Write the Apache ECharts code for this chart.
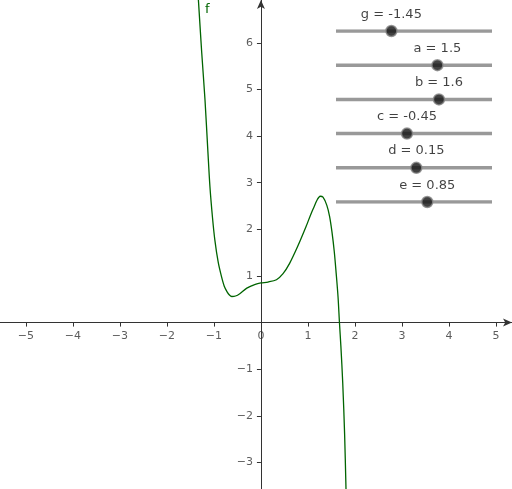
<!DOCTYPE html>
<html><head><meta charset="utf-8">
<script src="https://cdn.jsdelivr.net/npm/echarts@6/dist/echarts.min.js"></script>
<style>html,body{margin:0;padding:0;background:#fff}#c{width:512px;height:489px}</style>
</head><body><div id="c"></div>
<script>
const curveX = [-1.33,-1.26,-1.19,-1.13,-1.085,-1.03,-0.98,-0.91,-0.84,-0.78,-0.72,-0.67,-0.62,-0.54,-0.45,-0.30,-0.12,0,0.15,0.33,0.47,0.61,0.78,0.96,1.06,1.12,1.2,1.26,1.32,1.40,1.46,1.51,1.56,1.6,1.64,1.67,1.70,1.74,1.78,1.81];
const curveY = [6.92,5.8,4.78,3.7,2.92,2.25,1.77,1.3,0.99,0.78,0.66,0.59,0.56,0.57,0.62,0.74,0.82,0.85,0.87,0.92,1.05,1.27,1.63,2.06,2.32,2.46,2.64,2.71,2.69,2.52,2.28,1.95,1.52,1.06,0.55,0.0,-0.5,-1.3,-2.4,-3.6];
const xTicks = [-5,-4,-3,-2,-1,0,1,2,3,4,5];
const yTicks = [-3,-2,-1,1,2,3,4,5,6];
const sliderNames = ['g','a','b','c','d','e'];
const sliderValues = [-1.45,1.5,1.6,-0.45,0.15,0.85];
const fmt = v => String(v).replace('-', '\u2212');
const chart = echarts.init(document.getElementById('c'));
const axisCol = '#333';
const lbl = {color:'#333',fontSize:11,fontFamily:'DejaVu Sans'};
chart.setOption({
  animation:false,
  grid:[{left:0,right:0,top:0,bottom:0,outerBoundsMode:'none',containLabel:false},
        {left:336,width:156,top:31,height:171,outerBoundsMode:'none',containLabel:false}],
  xAxis:[{type:'value',min:-5.55,max:5.34,gridIndex:0,
    axisLine:{onZero:true,symbol:['none','arrow'],symbolSize:[6,9],lineStyle:{color:axisCol,width:1}},
    axisTick:{show:true,length:4,customValues:xTicks,lineStyle:{color:axisCol}},
    axisLabel:{show:false},splitLine:{show:false}},
   {type:'value',min:-5,max:5,gridIndex:1,show:false}],
  yAxis:[{type:'value',min:-3.57,max:6.92,gridIndex:0,
    axisLine:{onZero:true,symbol:['none','arrow'],symbolSize:[6,9],lineStyle:{color:axisCol,width:1}},
    axisTick:{show:true,length:4,customValues:yTicks,lineStyle:{color:axisCol}},
    axisLabel:{show:false},splitLine:{show:false}},
   {type:'value',min:0,max:5,inverse:true,gridIndex:1,show:false}],
  series:[
    {type:'line',xAxisIndex:0,yAxisIndex:0,smooth:0.3,symbol:'none',
     data:curveX.map((x,i)=>[x,curveY[i]]),lineStyle:{color:'#006400',width:1.3}},
    {type:'scatter',xAxisIndex:0,yAxisIndex:0,symbolSize:0,silent:true,
     data:xTicks.map(v=>[v,0]),
     label:Object.assign({show:true,position:'bottom',distance:8,formatter:p=>fmt(p.value[0]),
       offset:[0,0]},lbl)},
    {type:'scatter',xAxisIndex:0,yAxisIndex:0,symbolSize:0,silent:true,
     data:yTicks.map(v=>[0,v]),
     label:Object.assign({show:true,position:'left',distance:8,formatter:p=>fmt(p.value[1])},lbl)},
    ...sliderNames.map((n,i)=>({type:'line',xAxisIndex:1,yAxisIndex:1,symbol:'none',silent:true,
      data:[[-5,i],[5,i]],lineStyle:{color:'#999',width:3.5}})),
    {type:'scatter',xAxisIndex:1,yAxisIndex:1,symbolSize:11,z:5,
     data:sliderValues.map((v,i)=>[v,i]),
     itemStyle:{color:'#111',borderColor:'#888',borderWidth:1.5},
     label:{show:true,position:'top',distance:4,color:'#111',fontSize:13,fontFamily:'DejaVu Sans',
       formatter:p=>sliderNames[p.dataIndex]+' = '+sliderValues[p.dataIndex]}}
  ],
  graphic:[{type:'text',left:205,top:3,style:{text:'f',fill:'#006400',font:'13px DejaVu Sans'}}]
});
</script></body></html>
